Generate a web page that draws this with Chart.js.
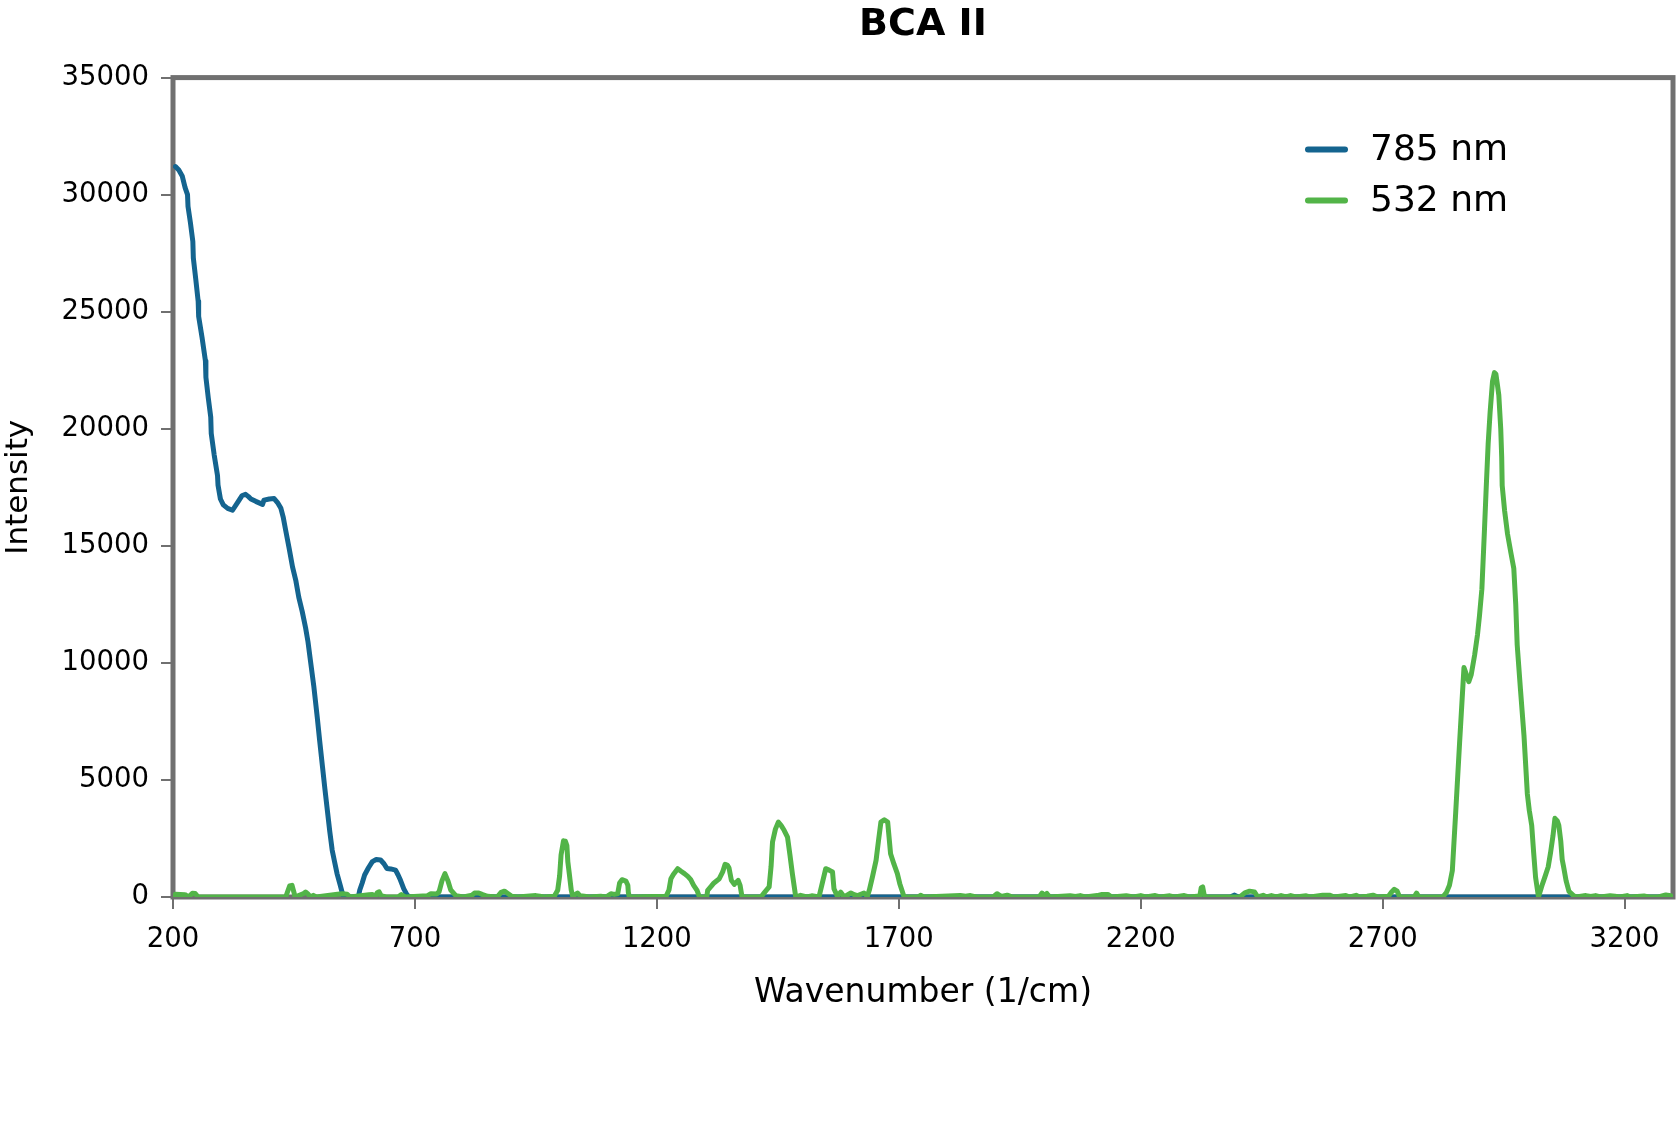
<!DOCTYPE html>
<html>
<head>
<meta charset="utf-8">
<title>BCA II</title>
<script src="https://cdn.jsdelivr.net/npm/chart.js@4.4.1/dist/chart.umd.min.js"></script>
<style>
  html, body { margin: 0; padding: 0; background: #ffffff; }
  canvas { display: block; }
</style>
</head>
<body>
<canvas id="spectrum" width="1676" height="1125"></canvas>
<script>
// tick labels
const xTicks = [200, 700, 1200, 1700, 2200, 2700, 3200];
const yTicks = [0, 5000, 10000, 15000, 20000, 25000, 30000, 35000];

// 785 nm spectrum
const wave785 = [205, 212, 219, 225, 230, 231, 236, 241, 242, 247, 252, 253, 260, 267, 268, 273, 278, 279, 285, 292, 293, 298, 304, 313, 323, 335, 343, 350, 356, 361, 371, 385, 388, 399, 409, 416, 423, 428, 433, 440, 447, 454, 460, 467, 474, 479, 484, 491, 498, 503, 509, 514, 519, 524, 529, 534, 539, 545, 550, 553, 583, 586, 591, 596, 604, 612, 620, 629, 636, 642, 650, 660, 665, 670, 677, 684, 690, 2385, 2394, 2402, 3300];
const int785 = [31200, 31050, 30800, 30300, 30000, 29500, 28800, 28000, 27300, 26400, 25450, 24800, 23900, 22900, 22200, 21300, 20500, 19800, 18900, 18000, 17600, 17000, 16750, 16600, 16520, 16900, 17150, 17200, 17100, 17000, 16900, 16770, 16950, 17000, 17020, 16850, 16600, 16200, 15650, 14900, 14100, 13500, 12800, 12200, 11500, 10900, 10100, 9000, 7700, 6700, 5550, 4600, 3700, 2800, 2000, 1500, 1000, 550, 160, 0, 0, 300, 600, 940, 1250, 1510, 1600, 1580, 1420, 1220, 1200, 1150, 950, 725, 350, 80, 0, 0, 80, 0, 0];

// 532 nm spectrum
const wave532 = [200, 205, 215, 225, 232, 240, 246, 252, 433, 438, 441, 446, 450, 452, 470, 474, 479, 484, 490, 496, 540, 550, 560, 566, 605, 612, 618, 622, 626, 630, 640, 665, 672, 680, 725, 733, 745, 750, 756, 762, 768, 774, 785, 800, 818, 823, 832, 840, 850, 870, 878, 885, 892, 900, 912, 950, 958, 967, 988, 995, 999, 1002, 1007, 1011, 1014, 1016, 1019, 1023, 1026, 1036, 1041, 1050, 1060, 1084, 1095, 1105, 1112, 1119, 1123, 1128, 1136, 1140, 1141, 1143, 1219, 1225, 1229, 1234, 1243, 1250, 1257, 1264, 1270, 1276, 1283, 1288, 1303, 1305, 1312, 1318, 1329, 1336, 1341, 1346, 1349, 1354, 1360, 1368, 1372, 1376, 1415, 1423, 1432, 1436, 1439, 1445, 1451, 1457, 1463, 1470, 1475, 1480, 1487, 1497, 1510, 1520, 1535, 1542, 1549, 1556, 1563, 1566, 1573, 1580, 1587, 1601, 1608, 1615, 1628, 1635, 1639, 1646, 1653, 1658, 1663, 1670, 1677, 1683, 1690, 1697, 1702, 1711, 1740, 1745, 1752, 1827, 1838, 1848, 1860, 1895, 1903, 1912, 1924, 1935, 1990, 1996, 2001, 2006, 2012, 2054, 2065, 2075, 2085, 2110, 2120, 2132, 2140, 2170, 2185, 2200, 2210, 2230, 2240, 2260, 2270, 2290, 2300, 2322, 2325, 2328, 2331, 2334, 2405, 2415, 2425, 2435, 2442, 2453, 2460, 2470, 2480, 2490, 2500, 2510, 2520, 2542, 2550, 2576, 2590, 2600, 2624, 2632, 2645, 2652, 2668, 2680, 2690, 2712, 2718, 2724, 2730, 2735, 2765, 2770, 2775, 2824, 2832, 2838, 2844, 2851, 2859, 2868, 2873, 2878, 2883, 2890, 2896, 2900, 2905, 2910, 2914, 2918, 2922, 2927, 2931, 2934, 2937, 2940, 2944, 2946, 2947, 2952, 2958, 2965, 2971, 2975, 2978, 2985, 2992, 2999, 3003, 3008, 3012, 3016, 3022, 3030, 3036, 3042, 3047, 3052, 3056, 3061, 3064, 3068, 3071, 3074, 3079, 3085, 3095, 3100, 3120, 3130, 3140, 3150, 3170, 3180, 3190, 3205, 3212, 3240, 3250, 3270, 3285, 3295, 3300];
const int532 = [0, 120, 110, 100, 0, 160, 150, 0, 0, 300, 470, 500, 200, 0, 150, 210, 130, 0, 70, 0, 120, 140, 120, 0, 100, 110, 0, 180, 220, 60, 0, 0, 100, 0, 50, 140, 130, 230, 700, 1000, 700, 300, 50, 0, 80, 170, 170, 100, 30, 0, 200, 250, 150, 30, 0, 60, 30, 0, 30, 285, 900, 1800, 2400, 2380, 2200, 1500, 1000, 300, 30, 170, 60, 30, 0, 30, 0, 140, 110, 140, 600, 740, 680, 500, 200, 0, 30, 300, 780, 960, 1210, 1100, 1000, 880, 740, 500, 285, 0, 0, 285, 450, 600, 780, 1070, 1395, 1350, 1250, 710, 540, 710, 500, 0, 0, 210, 430, 1300, 2350, 2900, 3200, 3050, 2850, 2560, 1800, 1000, 0, 70, 0, 50, 0, 600, 1210, 1150, 1070, 355, 30, 210, 0, 170, 100, 60, 170, 30, 285, 900, 1565, 2400, 3200, 3300, 3200, 1850, 1400, 1000, 570, 0, 0, 70, 0, 60, 30, 60, 0, 0, 140, 20, 80, 0, 0, 170, 60, 150, 0, 50, 20, 60, 0, 60, 110, 110, 0, 50, 0, 60, 0, 60, 0, 50, 0, 60, 0, 40, 400, 430, 100, 0, 0, 180, 250, 220, 0, 70, 0, 60, 0, 60, 0, 60, 0, 50, 0, 80, 80, 0, 60, 0, 70, 0, 30, 80, 0, 30, 200, 330, 250, 0, 0, 170, 0, 0, 200, 500, 1135, 3650, 6600, 9800, 9500, 9200, 9500, 10330, 11210, 12000, 13150, 15510, 17500, 19360, 20700, 22030, 22400, 22330, 21900, 21440, 20000, 18770, 17580, 16500, 15510, 14700, 14030, 12500, 10770, 8800, 6910, 4400, 3700, 3060, 1900, 840, 0, 540, 900, 1280, 1900, 2620, 3360, 3250, 3060, 2400, 1600, 1280, 700, 240, 50, 0, 60, 20, 60, 0, 50, 30, 0, 60, 0, 40, 0, 0, 90, 50, 0];

const seriesNames = ['785 nm', '532 nm'];
const seriesColors = ['#14648f', '#52b448'];

function toPoints(xs, ys) {
    return xs.map((x, i) => ({ x: x, y: ys[i] }));
}

const axisGray = '#707070';
const fontFamily = '"DejaVu Sans", sans-serif';

// frame all round the plot area
const framePlugin = {
    id: 'frame',
    beforeDatasetsDraw(chart) {
        const a = chart.chartArea;
        const ctx = chart.ctx;
        ctx.save();
        ctx.strokeStyle = axisGray;
        ctx.lineWidth = 5;
        ctx.strokeRect(a.left, a.top, a.right - a.left, a.bottom - a.top);
        ctx.restore();
    }
};

// legend drawn inside the plot, top right
const insideLegend = {
    id: 'insideLegend',
    afterDraw(chart) {
        const a = chart.chartArea;
        const ctx = chart.ctx;
        ctx.save();
        chart.data.datasets.forEach((ds, i) => {
            const y = a.top + 72 + i * 51;
            const x0 = a.right - 365;
            ctx.strokeStyle = ds.borderColor;
            ctx.lineWidth = 6;
            ctx.lineCap = 'round';
            ctx.beginPath();
            ctx.moveTo(x0, y);
            ctx.lineTo(x0 + 37, y);
            ctx.stroke();
            ctx.fillStyle = '#000000';
            ctx.font = '36px ' + fontFamily;
            ctx.textBaseline = 'middle';
            ctx.textAlign = 'left';
            ctx.fillText(ds.label, x0 + 62, y + 1);
        });
        ctx.restore();
    }
};

document.addEventListener("DOMContentLoaded", function () {
    let data = {
        datasets: [{
            label: seriesNames[0],
            data: toPoints(wave785, int785),
            borderColor: seriesColors[0],
            borderWidth: 5,
            order: 2
        }, {
            label: seriesNames[1],
            data: toPoints(wave532, int532),
            borderColor: seriesColors[1],
            borderWidth: 5,
            order: 1
        }]
    };

    let options = {
        responsive: false,
        animation: false,
        layout: { padding: { left: 0, right: 3, top: 0, bottom: 112 } },
        elements: {
            point: { radius: 0 },
            line: { tension: 0, borderJoinStyle: 'round', borderCapStyle: 'round' }
        },
        plugins: {
            legend: { display: false },
            tooltip: { enabled: false },
            title: {
                display: true,
                fullSize: false,
                text: 'BCA II',
                color: '#000000',
                font: { family: fontFamily, size: 38, weight: 'bold' },
                padding: { top: 2, bottom: 30 }
            }
        },
        scales: {
            x: {
                type: 'linear',
                min: 200,
                max: 3300,
                afterBuildTicks: scale => { scale.ticks = xTicks.map(v => ({ value: v })); },
                afterFit: scale => { scale.height = 116; },
                grid: { drawOnChartArea: false, drawTicks: true, tickLength: 12, color: axisGray, lineWidth: 2 },
                border: { display: false },
                ticks: {
                    color: '#000000',
                    font: { family: fontFamily, size: 27.5 },
                    padding: 14,
                    maxRotation: 0,
                    callback: v => String(v)
                },
                title: {
                    display: true,
                    text: 'Wavenumber (1/cm)',
                    color: '#000000',
                    font: { family: fontFamily, size: 33 },
                    padding: 0
                }
            },
            y: {
                min: 0,
                max: 35000,
                afterBuildTicks: scale => { scale.ticks = yTicks.map(v => ({ value: v })); },
                afterFit: scale => { scale.width = 173; },
                grid: { drawOnChartArea: false, drawTicks: true, tickLength: 12, color: axisGray, lineWidth: 2 },
                border: { display: false },
                ticks: {
                    color: '#000000',
                    font: { family: fontFamily, size: 27.5 },
                    padding: 12,
                    callback: v => String(v)
                },
                title: {
                    display: true,
                    text: 'Intensity',
                    color: '#000000',
                    font: { family: fontFamily, size: 31 },
                    padding: 0
                }
            }
        }
    };

    let ctx = document.getElementById('spectrum').getContext('2d');

    new Chart(ctx, {
        type: 'line',
        data: data,
        options: options,
        plugins: [framePlugin, insideLegend]
    });
});
</script>
</body>
</html>
